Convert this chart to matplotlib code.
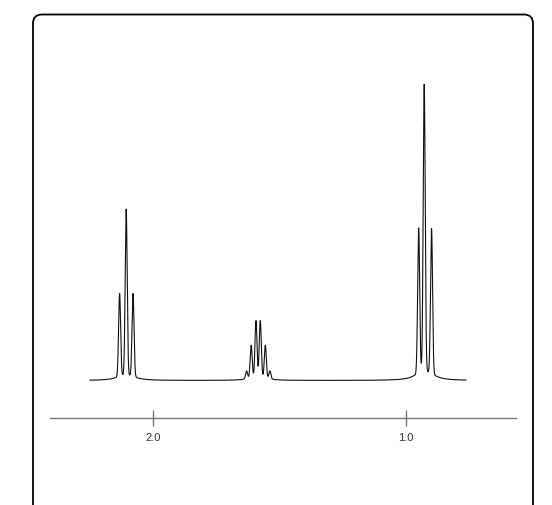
import numpy as np
import matplotlib
matplotlib.use("Agg")
import matplotlib.pyplot as plt
from matplotlib.patches import FancyBboxPatch

# peak list: position (ppm), height (arb. units)
triplet_a_ppm = [2.132, 2.106, 2.079]
triplet_a_int = [83, 166, 83]
sextet_ppm = [1.630, 1.612, 1.593, 1.576, 1.556, 1.538]
sextet_int = [8, 33, 57, 57, 33, 8]
triplet_b_ppm = [0.950, 0.928, 0.899]
triplet_b_int = [145, 287, 145]

spec_start, spec_end = 2.249, 0.763
tick_ppm = [2.0, 1.0]
tick_labels = ["2.0", "1.0"]

peaks_ppm = np.array(triplet_a_ppm + sextet_ppm + triplet_b_ppm)
peaks_int = np.array(triplet_a_int + sextet_int + triplet_b_int)

W, H, DPI = 552, 505, 100
fig = plt.figure(figsize=(W / DPI, H / DPI), dpi=DPI)

# background frame
bg = fig.add_axes([0, 0, 1, 1])
bg.set_xlim(0, W)
bg.set_ylim(H, 0)
bg.axis("off")
bg.add_patch(FancyBboxPatch((33, 14.5), 500, 520,
                            boxstyle="round,pad=0,rounding_size=9",
                            fill=False, edgecolor="black", linewidth=1.3))

# spectrum axes (x from 50px to 516px)
ax = fig.add_axes([50 / W, 0, 466 / W, 1])
ax.set_xlim(2.4071, 0.5652)
ax.set_ylim(380.5 - H, 380.5)
ax.patch.set_visible(False)

ppm = np.linspace(spec_start, spec_end, 30000)
s = 1.0 / 253
g = 8 / 253
y = np.zeros_like(ppm)
for p0, h in zip(peaks_ppm, peaks_int):
    d = ppm - p0
    y += h * np.exp(-d ** 2 / (2 * s ** 2)) + h * 0.02 * g ** 2 / (g ** 2 + d ** 2)
ax.plot(ppm, y, color="#111111", linewidth=0.8)

for side in ["left", "right", "top"]:
    ax.spines[side].set_visible(False)
ax.spines["bottom"].set_position(("data", -37.5))
ax.spines["bottom"].set_color("#7a7a7a")
ax.spines["bottom"].set_linewidth(1.0)
ax.set_yticks([])
ax.set_xticks(tick_ppm)
ax.set_xticklabels(tick_labels, family=["Liberation Sans", "DejaVu Sans"],
                   fontsize=8, color="#333333")
ax.tick_params(axis="x", direction="inout", length=11, width=1.0, color="#7a7a7a", pad=5)

fig.savefig("out.png", dpi=DPI)
